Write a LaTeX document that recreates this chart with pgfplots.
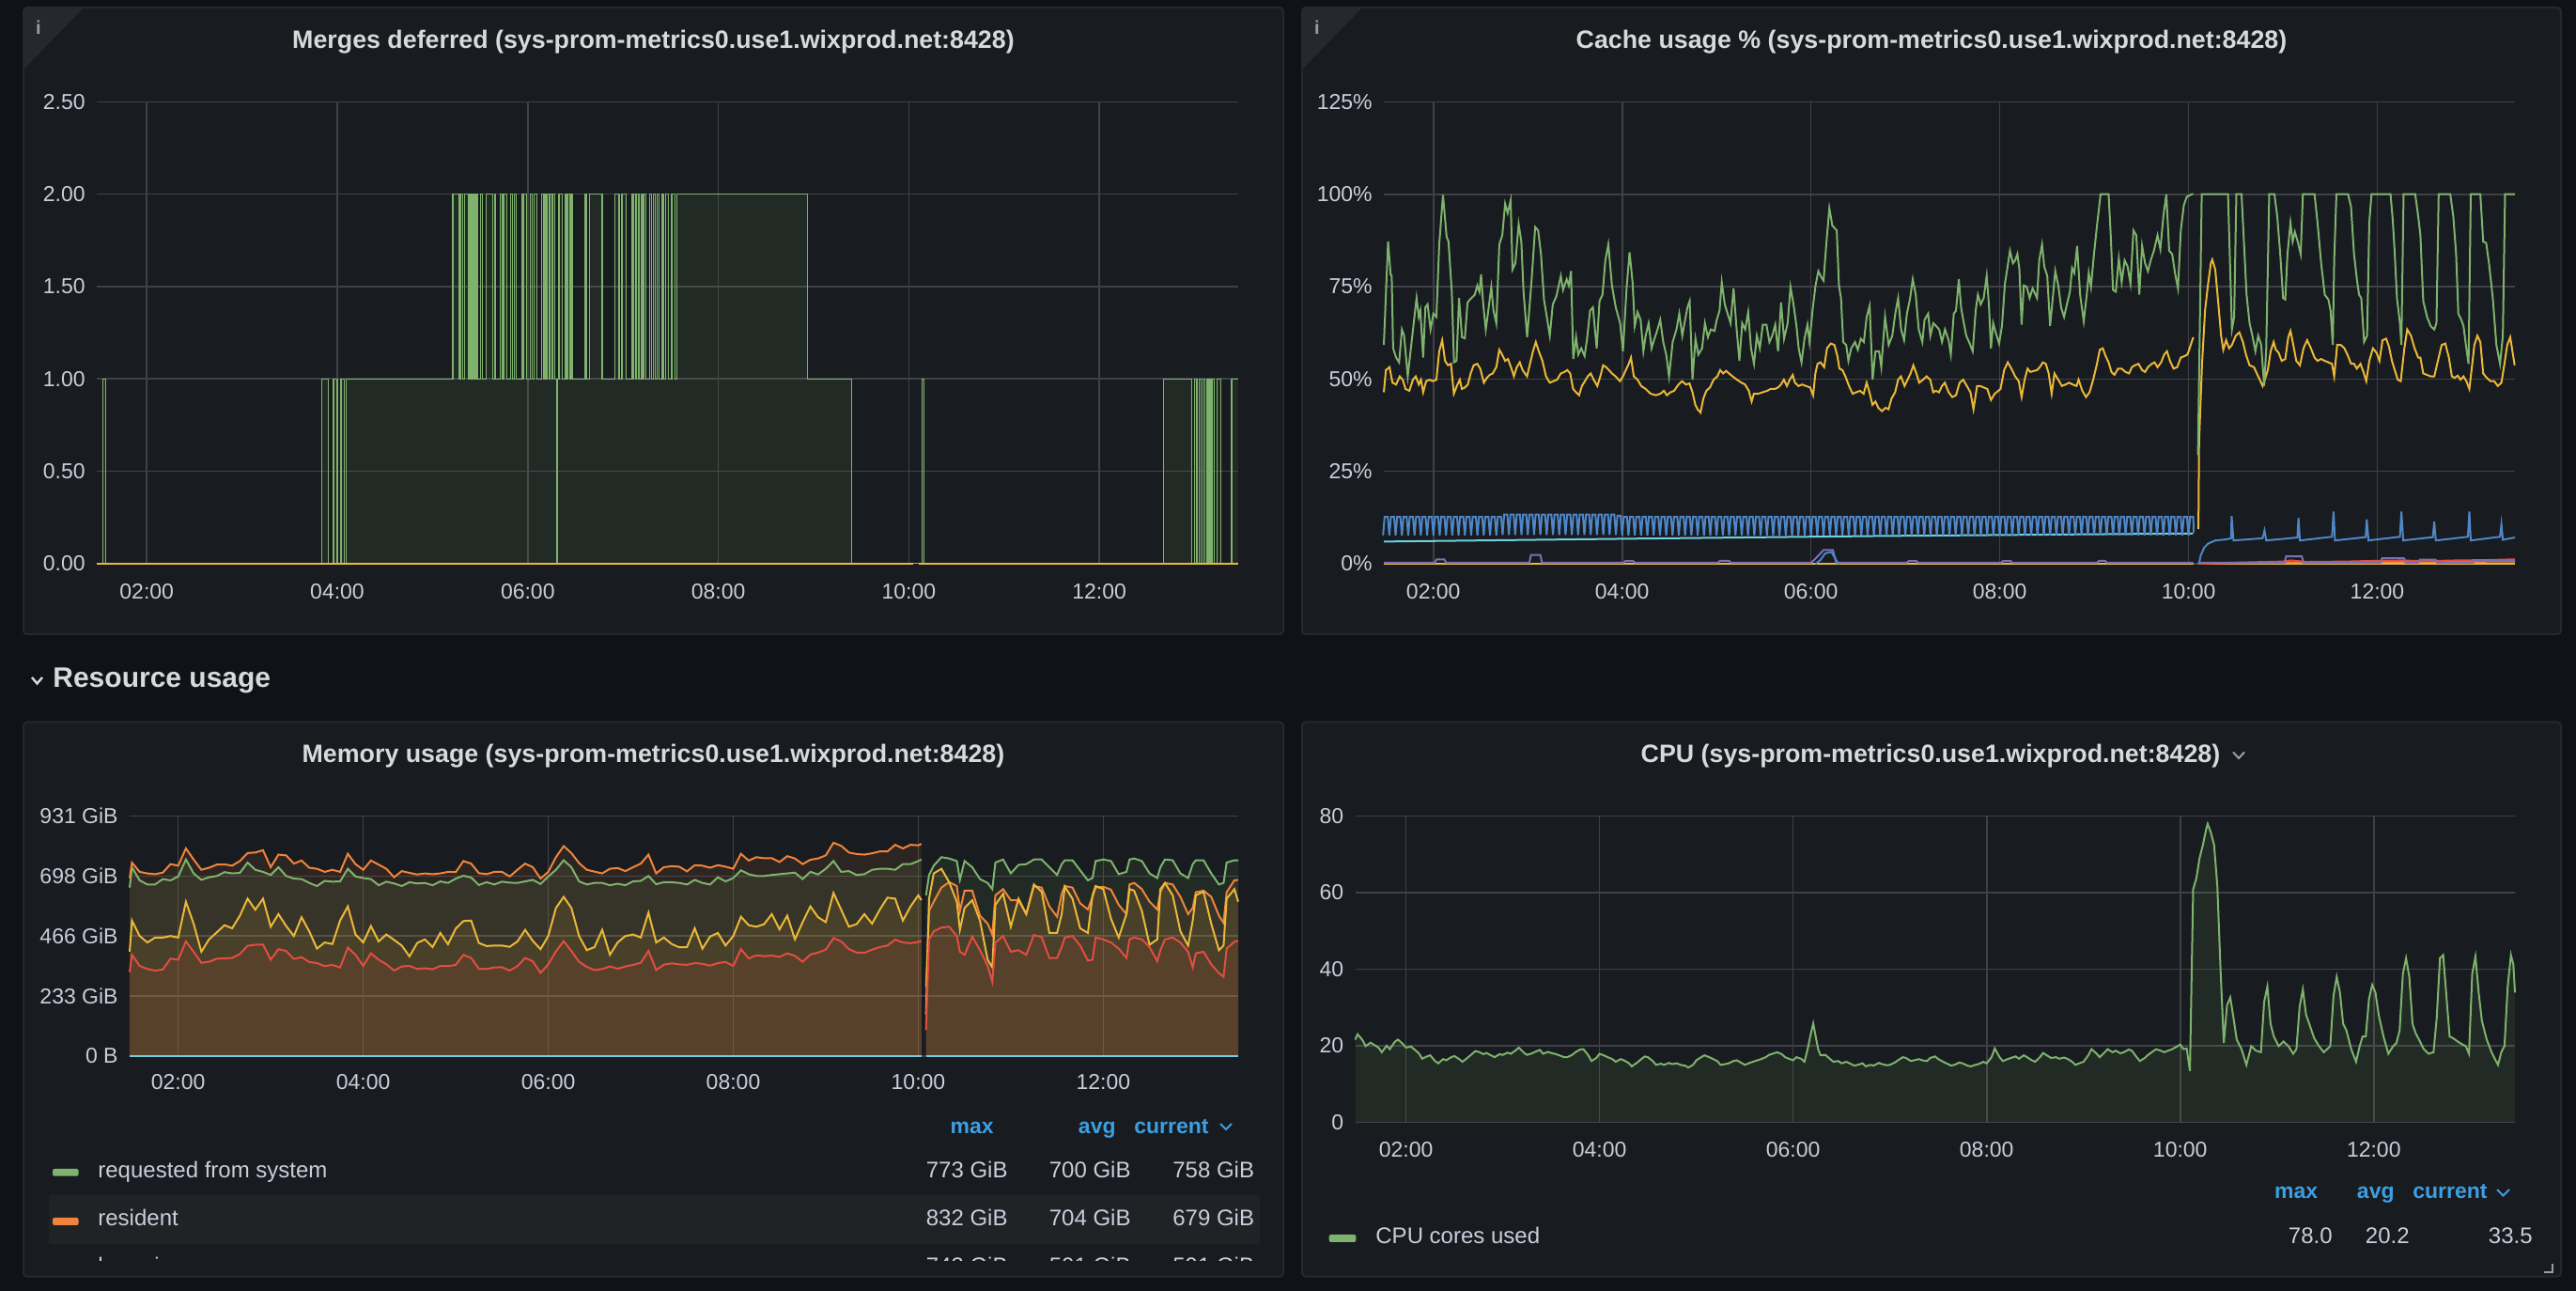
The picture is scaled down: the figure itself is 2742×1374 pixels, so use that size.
\documentclass[border=0pt]{standalone}
\usepackage{fontspec}
\setmainfont{Liberation Sans}
\usepackage{pgfplots}
\usepackage{pgfplotstable}
\pgfplotsset{compat=1.18}
\definecolor{dashbg}{HTML}{111217}
\definecolor{panelbg}{HTML}{181B1F}
\definecolor{panelbd}{HTML}{25282D}
\definecolor{gridc}{HTML}{3F4146}
\definecolor{tickc}{HTML}{CCCCDC}
\definecolor{titlec}{HTML}{D8D9DA}
\definecolor{hdrblue}{HTML}{3D9FE3}
\definecolor{infobg}{HTML}{25282D}
\definecolor{infoc}{HTML}{9A9DA3}
\definecolor{rowbg}{HTML}{202226}
\definecolor{cgreen}{HTML}{7EB26D}
\definecolor{cyellow}{HTML}{EAB839}
\definecolor{corange}{HTML}{EF843C}
\definecolor{cred}{HTML}{E24D42}
\definecolor{cblue}{HTML}{4E86C6}
\definecolor{ccyan}{HTML}{6ED0E0}
\definecolor{cpurple}{HTML}{806EB7}

\pgfplotsset{
 gaxis/.style={
  scale only axis, anchor=south west,
  xmin=88.5, xmax=807.5,
  axis line style={draw=none},
  major tick length=0pt,
  tick style={draw=none},
  xmajorgrids, ymajorgrids,
  major grid style={draw=gridc, line width=0.8pt},
  xtick={120,240,360,480,600,720},
  xticklabels={02:00,04:00,06:00,08:00,10:00,12:00},
  ticklabel style={font=\fontsize{11.5}{13.8}\selectfont, text=tickc},
  xticklabel style={anchor=north, inner sep=0pt},
  yticklabel style={anchor=east, inner sep=0pt},
  yticklabel shift=6pt,
  clip=false,
 }
}
\newcommand\tfont{\fontsize{13.4}{16}\selectfont\bfseries}
\newcommand\lfont{\fontsize{12}{14}\selectfont}
\newcommand\hfont{\fontsize{11.5}{14}\selectfont\bfseries}

\pgfplotstableread{
t v
88.5 0
92.4 1
93.9 0
230.2 1
234.6 0
237.6 1
240 0
242.4 1
244.2 0
245.4 1
312.8 2
316.9 1
318 2
319.2 1
320.1 2
322.4 1
323.4 2
324 1
325.2 2
326.4 1
327.6 2
328.5 1
330 2
331.2 1
334 2
337.7 1
339 2
339.6 1
342.8 2
343.8 1
344.7 2
346.9 1
349.2 2
350.4 1
351.6 2
352.9 1
356.1 2
357 1
357.6 2
359.3 1
361.7 2
363 1
364.2 2
365.8 1
368.6 2
370 1
370.8 2
371.4 1
372.2 2
373.2 1
374.1 2
375 1
375.6 2
376.9 1
378 0
378.6 1
379.6 2
381.5 1
383.8 2
384.6 1
385.5 2
386.4 1
387.3 2
388.4 1
396.2 2
397.2 1
399 2
406.9 1
414.7 2
417.5 1
419.3 2
422.1 1
425.3 2
426 1
426.9 2
427.8 1
428.4 2
429.9 1
431.3 2
432 1
432.9 2
434.5 1
436.9 2
438 1
439.2 2
440.4 1
441.4 2
442.8 1
444.7 2
445.8 1
447 2
448.4 1
450.7 2
452.9 1
453.9 2
536 1
564.1 0
608.4 1
609.6 0
760.6 1
778.2 0
780 1
781.5 0
783 1
784 0
785.5 1
786.3 0
787.5 1
788.5 0
789.5 1
790.3 0
791 1
792.5 0
794 1
796.6 0
803.4 1
807.5 1
}\merges

\pgfplotstableread{
t g o y r
88.5 654 691 405 326
90 733 751 526 393
95 682 715 466 350
100 666 709 441 338
105 666 706 460 332
110 687 712 460 336
115 682 745 466 378
120 697 739 460 374
125 763 806 599 445
130 709 763 514 405
135 684 723 405 362
140 694 731 453 366
145 699 743 480 378
150 714 744 508 379
155 709 739 496 381
160 711 757 545 396
165 751 788 611 428
170 723 790 568 432
175 715 799 611 433
180 703 733 502 374
185 733 782 551 415
190 699 779 505 408
195 689 747 466 377
200 687 759 539 384
205 672 731 484 365
210 660 727 417 361
215 680 715 441 349
220 677 723 435 354
225 678 715 526 344
230 727 785 581 421
235 697 745 472 393
240 691 723 441 350
245 687 759 505 399
250 663 743 445 374
255 677 727 472 356
260 670 694 451 332
265 660 718 429 348
270 675 711 387 350
275 670 705 439 338
280 672 709 453 341
285 663 706 423 337
290 678 709 478 350
295 672 715 434 349
300 689 714 495 354
305 700 757 524 393
310 693 747 526 381
315 664 710 439 339
320 675 706 427 338
325 666 715 429 344
330 677 715 429 345
335 673 697 424 332
340 672 723 445 349
345 678 747 490 381
350 684 733 447 368
355 668 689 415 323
360 697 715 466 356
365 723 772 575 407
370 760 815 618 446
375 733 788 575 408
380 678 749 466 366
385 666 723 411 346
390 672 716 423 334
395 672 709 490 338
400 663 727 393 348
405 669 730 441 339
410 663 718 466 348
415 678 733 472 354
420 680 747 460 362
425 699 782 557 408
430 667 709 441 334
435 675 733 460 355
440 675 737 435 360
445 672 735 422 356
450 666 717 423 354
455 684 741 496 361
460 672 739 417 358
465 666 731 464 351
470 694 741 478 361
475 678 735 429 365
480 691 727 466 350
485 721 785 541 415
490 706 759 508 379
495 699 772 502 391
500 699 768 512 388
505 703 768 551 390
510 706 753 492 385
515 709 776 545 399
520 712 767 453 389
525 687 745 520 366
530 715 762 581 394
535 705 767 539 402
540 727 779 520 413
545 757 828 633 458
550 715 816 568 445
555 718 790 502 415
560 703 784 512 402
565 706 782 551 401
570 723 787 514 413
575 727 794 568 423
580 727 794 615 429
585 723 820 611 452
590 745 806 526 441
595 745 820 581 438
600 757 818 624 443
602 763 824 605 447
}\memL

\pgfplotstableread{
t g o y r
605 624 271 162 101
607 703 563 611 453
610 739 599 709 484
615 772 654 727 499
620 767 675 675 502
625 757 660 599 466
627 684 563 490 405
630 757 642 575 393
635 733 642 605 464
640 687 545 526 411
645 672 514 374 350
648 648 472 344 289
650 751 624 587 441
655 763 648 630 466
660 709 605 502 405
665 742 605 611 411
670 745 551 551 393
675 763 660 666 470
680 763 654 638 462
685 733 581 478 381
690 703 541 478 381
693 745 630 551 423
695 760 660 658 460
700 760 654 611 466
705 721 593 496 429
710 682 569 478 371
713 691 618 624 374
715 757 654 660 460
720 763 657 648 453
725 757 646 533 441
730 706 587 460 417
735 715 551 551 381
737 763 666 648 453
740 767 672 642 460
745 757 648 563 453
750 709 599 432 423
755 691 569 453 368
757 733 636 648 411
760 763 672 672 453
765 760 666 624 460
770 709 618 484 441
775 691 551 429 405
778 745 575 526 344
780 760 636 624 399
785 760 642 638 405
790 709 618 514 356
795 666 545 411 322
798 672 517 429 308
800 751 636 611 417
805 760 682 648 444
807.5 760 684 599 447
}\memR

\pgfplotstableread{
t c
88.5 21.6
90 23.0
93 21.5
95 19.9
98 20.8
100 20.3
103 19.5
105 18.3
108 20.0
110 19.1
113 21.0
115 21.6
118 20.5
120 19.5
123 19.8
125 19.1
128 18.0
130 16.6
133 17.2
135 17.5
138 16.0
140 15.4
143 16.5
145 16.2
148 17.0
150 17.3
153 16.5
155 15.8
158 16.8
160 17.5
163 18.6
165 18.4
168 17.8
170 18.1
173 17.4
175 17.0
178 17.8
180 17.6
183 18.2
185 17.9
188 18.8
190 19.5
193 18.2
195 17.6
198 18.0
200 18.4
203 18.9
205 17.9
208 18.4
210 18.1
213 17.8
215 17.5
218 17.0
220 17.0
223 17.6
225 18.3
228 19.0
230 19.1
233 17.5
235 16.0
238 16.8
240 17.9
243 17.4
245 17.0
248 16.5
250 15.8
253 16.5
255 16.2
258 15.5
260 14.6
263 15.5
265 16.2
268 17.2
270 17.0
273 16.0
275 15.0
278 15.3
280 15.0
283 15.5
285 15.2
288 15.4
290 15.0
293 14.8
295 14.3
298 15.0
300 16.2
303 17.0
305 17.5
308 17.0
310 16.6
313 16.0
315 15.0
318 15.2
320 15.4
323 16.0
325 16.2
328 15.5
330 15.0
333 15.5
335 15.8
338 16.2
340 16.5
343 17.0
345 17.6
348 18.0
350 18.3
353 17.8
355 17.0
358 16.5
360 16.2
362 17.0
365 16.6
367 15.8
369 19.1
371 23.2
372.5 25.8
374 22.4
375.5 19.1
377 17.5
380 17.6
383 16.5
385 15.8
388 16.0
390 15.4
393 15.8
395 15.4
398 14.8
400 15.0
403 15.4
405 14.6
408 15.0
410 14.8
413 15.5
415 15.2
418 14.9
420 15.0
423 15.6
425 16.2
428 17.0
430 16.8
433 16.0
435 16.2
438 16.5
440 16.2
443 16.0
445 16.8
448 17.2
450 16.5
453 15.8
455 15.4
458 14.8
460 15.0
463 15.6
465 15.4
468 14.8
470 14.6
473 15.0
475 15.2
478 15.8
480 15.4
483 17.0
485 19.3
488 17.0
490 16.0
493 16.5
495 16.8
498 17.2
500 16.6
503 17.5
505 17.0
508 16.2
510 15.8
513 17.0
515 18.1
518 17.3
520 16.8
523 17.0
525 16.6
528 16.9
530 16.6
533 15.8
535 15.0
538 15.5
540 15.8
543 17.5
545 19.1
548 18.0
550 17.0
553 18.2
555 19.1
558 18.3
560 18.7
563 18.0
565 18.3
568 19.0
570 18.7
573 17.0
575 16.0
578 16.8
580 17.6
583 18.5
585 19.1
588 18.7
590 18.3
593 18.8
595 19.1
598 19.8
600 20.3
602 19.1
604 19.3
606 13.4
608 60.9
610 63.8
612 69.1
614 72.4
616 76.5
617 78.0
619 75.7
621 72.4
623 61.7
625 39.6
627 20.7
629 30.6
631 32.6
633 27.3
635 21.6
638 19.1
641 15.0
644 19.9
647 18.7
650 18.3
652 31.4
654 35.5
656 25.7
658 22.4
661 19.9
664 21.1
667 19.9
670 17.9
672 19.1
674 30.2
676 34.7
678 28.1
680 25.7
683 22.0
686 19.9
689 18.3
691 19.1
693 19.9
695 33.0
697 38.0
699 33.9
701 25.7
703 24.0
706 19.1
709 15.8
711 19.5
713 22.4
715 22.4
717 32.2
719 35.9
721 33.9
723 28.1
726 22.4
729 17.9
732 19.9
734 20.7
736 24.0
738 38.8
740 42.9
742 38.0
744 25.7
746 23.2
748 21.6
751 19.1
754 17.9
757 18.3
759 27.3
761 42.9
763 43.7
765 33.0
767 22.4
769 22.0
772 21.1
775 20.3
777 19.9
779 17.9
781 38.8
783 43.3
785 33.9
787 26.5
790 21.6
793 18.3
795 16.6
797 15.0
799 18.3
801 19.9
803 35.5
805 43.7
806.5 41.2
807.5 33.9
}\cpu

\begin{document}
\begin{tikzpicture}[x=0.5pt,y=0.5pt]
\fill[dashbg] (0,0) rectangle (2742,1374);
\coordinate (A1) at (103,774.3);
\coordinate (A2) at (1473,774);
\coordinate (A3) at (138,250);
\coordinate (A4) at (1442.5,179.6);
% panels
\filldraw[fill=panelbg, draw=panelbd, line width=1pt, rounded corners=2pt] (25,699) rectangle (1366,1366);
\filldraw[fill=panelbg, draw=panelbd, line width=1pt, rounded corners=2pt] (1386,699) rectangle (2726,1366);
\filldraw[fill=panelbg, draw=panelbd, line width=1pt, rounded corners=2pt] (25,15.4) rectangle (1366,605.5);
\filldraw[fill=panelbg, draw=panelbd, line width=1pt, rounded corners=2pt] (1386,15.4) rectangle (2726,605.5);
% info corners
\fill[infobg] (26,1365) -- (88,1365) -- (26,1301) -- cycle;
\fill[infobg] (1387,1365) -- (1449,1365) -- (1387,1301) -- cycle;
\node[font=\fontsize{10}{12}\selectfont\bfseries, text=infoc] at (41,1345) {i};
\node[font=\fontsize{10}{12}\selectfont\bfseries, text=infoc] at (1402,1345) {i};
% titles
\node[anchor=base, font=\tfont, text=titlec] at (695.5,1322.8) {Merges deferred (sys-prom-metrics0.use1.wixprod.net:8428)};
\node[anchor=base, font=\tfont, text=titlec] at (2056,1322.8) {Cache usage \% (sys-prom-metrics0.use1.wixprod.net:8428)};
\node[anchor=base, font=\tfont, text=titlec] at (695.5,562.5) {Memory usage (sys-prom-metrics0.use1.wixprod.net:8428)};
\node[anchor=base, font=\tfont, text=titlec] at (2055,562.5) {CPU (sys-prom-metrics0.use1.wixprod.net:8428)};
\draw[infoc, line width=1pt] (2377,573.5) -- (2383,567) -- (2389,573.5);
% row header
\draw[titlec, line width=1.2pt] (34,653) -- (39.5,646.5) -- (45,653);
\node[anchor=base west, inner sep=0pt, font=\fontsize{15}{18}\selectfont\bfseries, text=titlec] at (56,642) {Resource usage};

% ---------- Panel 1: merges ----------
\begin{axis}[gaxis, at={(A1)}, width=607.5pt, height=245.65pt,
  ymin=0, ymax=2.5, ytick={0,0.5,1,1.5,2,2.5},
  yticklabels={0.00,0.50,1.00,1.50,2.00,2.50}, xticklabel shift=10.5pt]
\addplot[const plot, draw=none, fill=cgreen, fill opacity=0.1] table[x=t,y=v]{\merges} \closedcycle;
\addplot[const plot, cgreen, line width=0.6pt] table[x=t,y=v]{\merges};
\addplot[cyellow, line width=1pt] coordinates {(88.5,0)(603,0)};
\addplot[cyellow, line width=1pt] coordinates {(606,0)(807.5,0)};
\end{axis}

% ---------- Panel 2: cache ----------
\begin{axis}[gaxis, at={(A2)}, width=602pt, height=245.8pt,
  ymin=0, ymax=125, ytick={0,25,50,75,100,125},
  yticklabels={0\%,25\%,50\%,75\%,100\%,125\%}, xticklabel shift=10.5pt]
\addplot[cyellow, line width=1pt] coordinates {(88.5,0)(603,0)};
\addplot[cyellow, line width=1pt] coordinates {(606,0)(807.5,0)};
\addplot[corange, line width=1pt] coordinates {(606,0)(650,0.3)(700,0.4)(750,0.5)(807.5,0.6)};
\addplot[cred, line width=1pt] coordinates {(606,0)(620,0.2)(640,0.4)(660,0.6)(665,0.9)(675,0.5)(700,0.6)(720,0.8)(735,0.9)(750,0.7)(770,0.9)(790,1.0)(807.5,1.2)};
\addplot[cpurple, line width=1pt] coordinates {(88.5,0.3)(121,0.3)(122,1.2)(127,1.2)(128,0.3)(181,0.3)(182,2.4)(188,2.4)(189,0.3)(241,0.3)(242,0.7)(247,0.7)(248,0.3)(301,0.3)(302,0.8)(308,0.8)(309,0.3)(360,0.3)(362,1.0)(368,3.7)(374,3.7)(376,0.3)(421,0.3)(422,0.7)(427,0.7)(428,0.3)(481,0.3)(482,0.7)(487,0.7)(488,0.3)(542,0.3)(543,0.8)(547,0.8)(548,0.3)(603,0.3)};
\addplot[cpurple, line width=1pt] coordinates {(606,0)(607,0.3)(661,0.3)(662,2.0)(672,2.0)(673,0.3)(722,0.3)(723,1.5)(737,1.5)(738,0.3)(746,0.3)(747,1.1)(757,1.1)(758,0.3)(781,0.3)(782,0.8)(807.5,0.8)};
\addplot[cblue, line width=1pt] coordinates {(363,0)(366,1)(369,2.8)(373,3.2)(377,0.3)(378,0)};
\addplot[ccyan, line width=1pt] coordinates {(88.5,6.0)(250,6.8)(400,7.5)(603,8.2)};
\addplot[cblue, line width=1pt] coordinates {
(88,7.7)(89,12.7)(91,12.7)(92,7.7)(93,12.7)(95,12.7)(96,7.7)(97,12.7)(99,12.7)(100,7.7)(101,12.7)(103,12.7)
(104,7.7)(105,12.7)(107,12.7)(108,7.7)(109,12.7)(111,12.7)(112,7.7)(113,12.7)(115,12.7)(116,7.7)(117,12.7)(119,12.7)
(120,7.7)(121,12.7)(123,12.7)(124,7.7)(125,12.7)(127,12.7)(128,7.7)(129,12.7)(131,12.7)(132,7.7)(133,12.7)(135,12.7)
(136,7.7)(137,12.7)(139,12.7)(140,7.7)(141,12.7)(143,12.7)(144,7.7)(145,12.7)(147,12.7)(148,7.7)(149,12.7)(151,12.7)
(152,7.7)(153,12.7)(155,12.7)(156,7.7)(157,12.7)(159,12.7)(160,7.7)(161,12.7)(163,12.7)(164,7.8)(165,13.3)(167,13.3)
(168,7.8)(169,13.3)(171,13.3)(172,7.8)(173,13.3)(175,13.3)(176,7.8)(177,13.3)(179,13.3)(180,7.8)(181,13.3)(183,13.3)
(184,7.8)(185,13.3)(187,13.3)(188,7.8)(189,13.3)(191,13.3)(192,7.8)(193,13.3)(195,13.3)(196,7.8)(197,13.3)(199,13.3)
(200,7.8)(201,13.3)(203,13.3)(204,7.8)(205,13.3)(207,13.3)(208,7.8)(209,13.3)(211,13.3)(212,7.8)(213,13.3)(215,13.3)
(216,7.8)(217,13.3)(219,13.3)(220,7.8)(221,13.3)(223,13.3)(224,7.8)(225,13.3)(227,13.3)(228,7.8)(229,13.3)(231,13.3)
(232,7.8)(233,13.3)(235,13.3)(236,7.8)(237,13.0)(239,13.0)(240,7.7)(241,12.7)(243,12.7)(244,7.7)(245,12.7)(247,12.7)
(248,7.7)(249,12.7)(251,12.7)(252,7.7)(253,12.7)(255,12.7)(256,7.7)(257,12.7)(259,12.7)(260,7.7)(261,12.7)(263,12.7)
(264,7.7)(265,12.7)(267,12.7)(268,7.7)(269,12.7)(271,12.7)(272,7.7)(273,12.7)(275,12.7)(276,7.7)(277,12.7)(279,12.7)
(280,7.7)(281,12.7)(283,12.7)(284,7.7)(285,12.7)(287,12.7)(288,7.7)(289,12.7)(291,12.7)(292,7.7)(293,12.7)(295,12.7)
(296,7.7)(297,12.7)(299,12.7)(300,7.7)(301,12.7)(303,12.7)(304,7.7)(305,12.7)(307,12.7)(308,7.7)(309,12.7)(311,12.7)
(312,7.7)(313,12.7)(315,12.7)(316,7.7)(317,12.7)(319,12.7)(320,7.7)(321,12.7)(323,12.7)(324,7.7)(325,12.7)(327,12.7)
(328,7.7)(329,12.7)(331,12.7)(332,7.7)(333,12.7)(335,12.7)(336,7.7)(337,12.7)(339,12.7)(340,7.7)(341,12.7)(343,12.7)
(344,7.7)(345,12.7)(347,12.7)(348,7.7)(349,12.7)(351,12.7)(352,7.7)(353,12.7)(355,12.7)(356,7.7)(357,12.7)(359,12.7)
(360,7.7)(361,12.7)(363,12.7)(364,7.7)(365,12.7)(367,12.7)(368,7.7)(369,12.7)(371,12.7)(372,7.7)(373,12.7)(375,12.7)
(376,7.7)(377,12.7)(379,12.7)(380,7.7)(381,12.7)(383,12.7)(384,7.7)(385,12.7)(387,12.7)(388,7.7)(389,12.7)(391,12.7)
(392,7.7)(393,12.7)(395,12.7)(396,7.7)(397,12.7)(399,12.7)(400,7.7)(401,12.7)(403,12.7)(404,7.7)(405,12.7)(407,12.7)
(408,7.7)(409,12.7)(411,12.7)(412,7.7)(413,12.7)(415,12.7)(416,7.7)(417,12.7)(419,12.7)(420,7.7)(421,12.7)(423,12.7)
(424,7.7)(425,12.7)(427,12.7)(428,7.7)(429,12.7)(431,12.7)(432,7.7)(433,12.7)(435,12.7)(436,7.7)(437,12.7)(439,12.7)
(440,7.7)(441,12.7)(443,12.7)(444,7.7)(445,12.7)(447,12.7)(448,7.7)(449,12.7)(451,12.7)(452,7.7)(453,12.7)(455,12.7)
(456,7.7)(457,12.7)(459,12.7)(460,7.7)(461,12.7)(463,12.7)(464,7.7)(465,12.7)(467,12.7)(468,7.7)(469,12.7)(471,12.7)
(472,7.7)(473,12.7)(475,12.7)(476,7.7)(477,12.7)(479,12.7)(480,7.7)(481,12.7)(483,12.7)(484,7.7)(485,12.7)(487,12.7)
(488,7.7)(489,12.7)(491,12.7)(492,7.7)(493,12.7)(495,12.7)(496,7.7)(497,12.7)(499,12.7)(500,7.7)(501,12.7)(503,12.7)
(504,7.7)(505,12.7)(507,12.7)(508,7.7)(509,12.7)(511,12.7)(512,7.7)(513,12.7)(515,12.7)(516,7.7)(517,12.7)(519,12.7)
(520,7.7)(521,12.7)(523,12.7)(524,7.7)(525,12.7)(527,12.7)(528,7.7)(529,12.7)(531,12.7)(532,7.7)(533,12.7)(535,12.7)
(536,7.7)(537,12.7)(539,12.7)(540,7.7)(541,12.7)(543,12.7)(544,7.7)(545,12.7)(547,12.7)(548,7.7)(549,12.7)(551,12.7)
(552,7.7)(553,12.7)(555,12.7)(556,7.7)(557,12.7)(559,12.7)(560,7.7)(561,12.7)(563,12.7)(564,7.7)(565,12.7)(567,12.7)
(568,7.7)(569,12.7)(571,12.7)(572,7.7)(573,12.7)(575,12.7)(576,7.7)(577,12.7)(579,12.7)(580,7.7)(581,12.7)(583,12.7)
(584,7.7)(585,12.7)(587,12.7)(588,7.7)(589,12.7)(591,12.7)(592,7.7)(593,12.7)(595,12.7)(596,7.7)(597,12.7)(599,12.7)
(600,7.7)(601,12.7)(603,12.7)(603.3,8.5)};
\addplot[cblue, line width=1pt] coordinates {(606.7,0)(607.7,2.2)(610,4.4)(612.3,5.4)(617,6.3)(624,6.6)(627,6.9)(627.4,12.9)(628.6,6.3)(647.1,6.9)(648.3,9.0)(649.4,6.3)(669.2,7.1)(669.9,12.4)(670.8,6.3)(691.2,7.3)(692.2,14.1)(693.1,6.3)(712.6,7.2)(713.3,12.0)(714.4,6.3)(734.4,7.3)(735.3,14.1)(736.5,6.3)(755.3,7.2)(756.2,11.4)(757.2,6.3)(777.6,7.3)(778.5,14.1)(779.4,6.3)(798.0,7.3)(798.9,10.7)(799.8,6.5)(807.5,7.1)};
% yellow cache
\addplot[cyellow, line width=1pt] coordinates {(88.5,46.4)(89.8,52.4)(92.1,53.2)(94.0,49.0)(96.3,48.5)(98.6,50.7)(100.5,49.8)(102.3,47.3)(104.7,46.8)(107.0,49.8)(108.8,50.7)(110.7,48.5)(112.1,49.8)(113.5,46.4)(115.4,49.4)(117.7,49.8)(119.5,49.4)(121.9,49.8)(123.7,57.5)(125.6,60.5)(127.4,54.9)(129.3,53.7)(131.2,54.1)(133.0,46.0)(134.9,48.1)(136.8,49.8)(138.1,47.3)(140.0,47.7)(141.9,48.5)(143.7,51.5)(145.6,53.7)(147.9,54.1)(149.8,52.8)(152.1,49.0)(154.0,50.3)(155.8,51.1)(157.7,51.5)(160.0,53.2)(161.9,57.9)(163.7,56.6)(165.6,54.9)(167.4,55.4)(169.3,53.2)(171.2,50.7)(173.0,53.2)(174.9,54.5)(176.7,52.4)(179.5,50.7)(181.4,54.1)(183.3,57.5)(185.1,60.0)(187.0,57.5)(189.3,54.9)(191.6,50.7)(194.0,49.0)(196.3,49.4)(198.6,49.8)(201.0,51.5)(203.3,51.9)(205.1,52.4)(207.0,51.5)(208.8,47.3)(210.7,46.4)(212.6,45.6)(214.4,48.1)(216.3,49.4)(218.1,50.7)(220.0,51.5)(221.9,49.8)(224.2,48.1)(226.1,50.7)(227.9,53.7)(229.8,53.2)(231.6,52.4)(233.5,51.5)(235.8,50.7)(238.6,49.4)(240.5,50.7)(242.3,52.4)(244.2,54.1)(245.6,55.8)(247.4,50.7)(249.8,49.8)(252.1,48.1)(254.9,47.3)(258.1,46.0)(261.4,45.6)(264.2,46.0)(266.5,46.8)(268.4,45.6)(270.7,46.4)(273.0,46.8)(275.8,48.5)(278.1,49.4)(280.5,48.5)(282.8,48.8)(284.7,46.4)(286.5,43.0)(287.9,41.8)(289.8,40.9)(291.6,44.7)(293.5,46.8)(295.8,47.7)(298.1,49.8)(300.5,50.7)(302.3,52.4)(304.2,51.5)(306.1,52.2)(307.9,51.5)(310.2,50.7)(313.0,49.8)(315.8,49.0)(318.1,48.5)(320.5,46.8)(322.3,43.9)(323.7,46.0)(326.5,46.0)(329.3,46.4)(332.1,46.8)(334.4,47.3)(337.2,47.3)(339.1,47.7)(340.9,48.5)(342.8,49.8)(344.7,48.1)(346.5,49.8)(348.4,51.1)(349.8,49.0)(352.1,48.1)(354.4,48.5)(356.8,48.1)(359.5,47.7)(361.4,45.6)(362.8,51.5)(364.2,54.1)(366.1,54.5)(368.4,53.2)(370.2,58.3)(372.6,59.6)(374.9,59.2)(376.8,56.2)(378.1,52.8)(380.0,52.4)(381.9,50.7)(384.2,48.1)(386.5,46.0)(388.8,46.4)(391.2,46.8)(393.5,46.0)(395.4,49.0)(397.2,46.4)(399.1,43.0)(401.0,43.9)(402.8,42.2)(405.1,41.3)(407.4,42.2)(409.3,41.8)(411.2,44.7)(413.5,46.4)(415.4,49.8)(417.2,50.7)(419.5,48.1)(421.4,49.8)(423.3,51.5)(425.1,53.7)(427.0,51.5)(428.8,49.0)(431.2,49.8)(433.5,50.7)(435.8,49.8)(437.7,46.4)(439.5,46.8)(441.4,46.4)(443.3,48.1)(445.1,49.0)(447.5,46.4)(449.8,45.1)(452.2,45.6)(454.5,49.0)(456.8,49.8)(459.1,48.1)(461.4,46.4)(463.3,41.8)(465.6,48.1)(467.5,48.1)(469.8,47.7)(472.1,47.3)(474.4,44.3)(476.8,46.0)(479.1,46.8)(480.5,47.3)(482.8,52.4)(485.1,54.5)(487.4,52.8)(489.8,50.7)(492.1,49.4)(493.9,45.1)(495.8,49.8)(497.7,52.8)(499.5,51.9)(501.8,52.2)(503.7,52.4)(505.5,53.2)(507.4,54.5)(509.3,54.1)(511.1,51.5)(513.0,46.0)(514.8,51.5)(517.2,49.8)(519.5,48.1)(521.8,48.5)(524.1,49.0)(526.4,48.5)(528.8,48.1)(530.1,49.8)(532.5,46.8)(534.8,45.1)(537.1,46.4)(539.4,49.8)(541.8,54.1)(543.6,57.9)(545.5,58.3)(547.3,56.2)(549.2,54.5)(551.0,51.9)(552.9,51.1)(555.2,52.8)(557.5,52.8)(559.9,51.9)(562.2,51.5)(564.0,53.2)(565.9,53.7)(568.2,54.1)(570.5,52.4)(572.4,51.9)(574.2,53.2)(576.6,54.1)(578.4,54.5)(580.3,53.2)(582.6,54.5)(584.5,56.6)(586.3,57.5)(588.2,54.9)(590.5,52.8)(592.8,53.2)(595.1,55.8)(597.5,56.2)(599.3,56.6)(600.7,58.3)(603.0,61.3)};
\addplot[cyellow, line width=1pt] coordinates {(606.3,9.4)(606.7,32.8)(608.6,54.1)(610.5,68.5)(612.3,75.3)(614.2,81.3)(615.1,82.3)(617.0,79.6)(618.8,71.1)(620.7,61.7)(622.1,57.9)(623.9,60.5)(625.8,58.3)(627.6,59.2)(630.0,61.7)(632.3,62.6)(634.6,60.0)(636.5,56.6)(638.8,53.7)(641.6,53.2)(643.4,51.5)(645.3,49.8)(647.1,48.1)(648.5,49.8)(650.4,52.4)(652.2,57.5)(654.1,60.0)(655.5,57.9)(657.3,57.1)(659.2,54.9)(661.5,55.4)(663.4,61.3)(664.8,63.0)(666.6,59.2)(668.5,54.9)(670.8,53.7)(673.1,58.3)(675.4,60.5)(677.8,58.3)(680.1,55.8)(682.0,54.9)(684.3,55.4)(686.6,54.9)(688.9,54.5)(691.2,54.1)(692.6,50.7)(694.5,59.2)(696.8,59.2)(699.1,58.3)(701.4,56.2)(703.3,54.1)(705.2,54.1)(707.0,52.8)(709.3,54.1)(711.2,51.9)(713.0,49.4)(714.9,54.9)(717.2,58.3)(719.5,57.1)(721.4,54.9)(723.3,60.5)(725.6,60.9)(727.4,58.8)(729.3,54.9)(731.1,52.4)(733.0,49.8)(734.9,49.4)(737.2,58.3)(739.0,63.4)(741.4,61.7)(743.7,58.3)(746.0,55.8)(747.4,55.8)(749.2,51.5)(751.6,51.1)(753.9,50.7)(756.2,50.7)(758.5,54.9)(760.9,59.2)(763.2,59.6)(765.5,55.8)(767.4,50.7)(769.2,50.3)(771.1,50.9)(772.9,49.8)(774.8,50.7)(776.6,49.4)(778.5,47.3)(779.9,52.4)(781.7,59.2)(783.6,61.7)(785.5,60.0)(787.3,51.5)(789.6,50.3)(792.0,49.4)(794.3,49.4)(796.6,48.1)(798.9,49.0)(800.8,54.1)(802.6,59.2)(804.5,61.3)(807.3,53.7)};
% green cache
\addplot[cgreen, line width=1pt] coordinates {(88.5,59.2)(91.2,87.2)(92.8,78.3)(93.5,77.9)(94.4,58.3)(96.3,55.8)(98.2,54.5)(100.0,63.4)(101.4,61.7)(103.7,50.7)(107.5,65.1)(109.3,71.9)(110.7,66.8)(111.7,68.5)(113.5,55.8)(114.9,69.4)(116.3,70.2)(118.2,63.4)(120.0,67.7)(121.9,66.8)(123.7,86.4)(126.1,99.8)(128.4,88.5)(129.6,87.2)(131.7,73.6)(133.1,54.5)(134.7,54.9)(136.3,71.9)(138.2,61.3)(140.0,61.0)(141.7,70.7)(143.3,71.5)(146.3,72.8)(147.9,75.3)(149.3,73.6)(150.3,78.3)(151.7,70.2)(153.3,63.4)(154.9,68.5)(156.8,74.9)(158.2,68.5)(160.0,65.1)(161.9,86.4)(163.8,88.9)(165.6,97.4)(167.2,94.9)(169.1,98.3)(170.3,79.6)(172.1,81.3)(174.2,91.9)(175.9,87.2)(177.3,73.6)(179.6,61.3)(182.4,76.6)(184.7,91.1)(186.6,90.2)(188.4,83.8)(190.3,71.5)(192.1,66.8)(194.0,61.7)(195.9,70.2)(198.2,72.4)(201.0,77.9)(202.4,74.1)(204.7,77.0)(206.1,75.3)(207.5,79.2)(208.9,55.4)(210.7,61.3)(212.1,56.6)(214.0,58.3)(216.1,56.2)(217.7,60.9)(219.6,68.5)(221.4,69.4)(223.8,58.3)(225.6,71.1)(227.5,72.8)(229.3,82.1)(231.2,86.4)(233.5,75.3)(235.9,69.4)(238.7,65.1)(240.5,57.5)(242.8,74.5)(244.7,84.3)(246.6,76.2)(248.0,64.3)(249.8,68.1)(251.7,66.0)(253.5,57.5)(254.9,61.7)(256.8,65.1)(258.7,58.3)(260.5,60.9)(261.9,62.6)(264.2,66.0)(266.1,60.0)(268.0,56.6)(269.8,50.7)(272.1,60.0)(274.5,63.4)(276.3,67.7)(278.2,61.7)(279.6,65.1)(281.5,69.4)(282.9,71.1)(284.7,49.8)(286.6,60.9)(288.4,56.6)(290.8,58.3)(292.6,65.1)(294.5,61.3)(296.3,63.4)(298.7,63.0)(300.1,66.0)(301.9,68.5)(303.3,76.2)(305.2,70.2)(307.0,67.7)(308.9,65.1)(310.8,74.5)(312.6,64.3)(314.5,54.9)(316.3,65.1)(318.2,63.4)(320.1,68.1)(321.9,58.3)(323.8,54.1)(325.6,61.7)(327.5,58.3)(329.4,64.7)(331.7,64.7)(333.6,60.0)(335.4,61.7)(337.3,64.7)(339.1,57.5)(341.0,70.7)(342.9,60.9)(345.2,65.1)(347.0,74.9)(348.9,70.2)(350.8,64.3)(352.2,58.3)(354.0,54.5)(355.9,60.9)(357.8,64.7)(359.1,60.0)(361.0,68.5)(362.9,75.3)(364.7,79.2)(366.6,77.5)(368.0,76.6)(369.8,86.8)(371.7,96.2)(373.6,91.5)(376.4,90.2)(377.8,75.3)(379.1,71.9)(380.5,60.0)(382.4,59.2)(383.8,54.9)(385.6,58.3)(388.0,60.0)(389.8,57.9)(391.7,60.9)(393.6,60.0)(395.4,66.8)(397.3,69.8)(399.2,49.8)(401.0,57.5)(403.3,57.5)(404.7,53.2)(407.1,66.8)(409.4,59.2)(411.7,61.7)(413.6,67.7)(415.4,71.9)(417.3,63.4)(419.2,60.5)(421.0,67.7)(422.9,71.5)(424.7,77.0)(426.6,72.8)(428.5,63.4)(430.8,60.0)(432.2,66.0)(434.5,67.7)(435.9,61.7)(437.8,65.1)(439.6,64.3)(441.5,63.4)(443.3,60.0)(445.2,63.4)(447.5,60.5)(448.9,56.6)(450.8,67.7)(452.2,68.5)(454.0,77.0)(455.4,69.4)(456.8,66.0)(458.7,61.7)(460.5,60.0)(462.8,57.5)(464.7,68.5)(466.1,72.8)(467.9,70.2)(469.8,71.9)(471.7,77.9)(473.1,70.2)(474.4,58.3)(475.8,65.1)(477.7,62.2)(479.6,59.6)(481.4,64.3)(483.3,75.8)(484.7,79.6)(486.5,84.7)(488.4,81.3)(489.8,82.1)(491.2,83.8)(492.5,79.6)(493.9,64.7)(495.3,75.3)(497.2,74.9)(499.0,71.9)(500.9,74.5)(502.3,73.2)(503.7,71.9)(505.1,82.1)(506.9,86.4)(508.3,80.4)(510.2,77.9)(512.0,64.3)(513.9,72.8)(515.3,79.2)(517.2,75.3)(519.0,69.4)(520.9,66.8)(522.7,70.2)(524.6,73.6)(526.0,80.0)(527.4,78.7)(529.2,86.0)(531.1,72.8)(533.4,65.6)(535.3,72.8)(536.6,78.7)(538.0,74.9)(539.9,83.8)(541.8,91.5)(544.1,100)(549.2,100)(550.6,88.5)(552.0,74.1)(553.8,73.6)(555.7,82.6)(557.5,76.2)(559.4,82.1)(561.3,80.4)(563.1,75.8)(565.0,90.2)(566.8,88.9)(568.7,72.8)(570.5,86.0)(572.4,81.3)(574.2,79.2)(576.1,82.3)(578.0,84.7)(580.3,88.9)(582.1,85.1)(584.0,94.0)(585.9,100)(587.7,84.7)(589.6,83.8)(591.4,78.7)(593.3,74.5)(595.1,90.2)(597.0,97.0)(598.9,99.3)(602.1,100)(603.0,100)};
\addplot[cgreen, line width=1pt] coordinates {(606.0,29.4)(608.4,100)(625.1,100)(626.2,83.8)(627.6,63.4)(629.0,66.8)(630.4,100)(633.7,100)(635.1,88.1)(636.9,72.8)(638.8,65.1)(640.6,61.7)(642.5,57.5)(644.3,61.7)(646.2,59.2)(648.1,48.1)(649.4,58.3)(651.3,100)(654.6,100)(656.4,94.0)(658.3,83.8)(660.1,71.9)(661.5,71.5)(662.9,83.8)(664.8,92.3)(666.2,87.2)(667.6,89.8)(669.4,87.2)(671.3,83.8)(672.7,100)(680.1,100)(682.0,92.3)(684.3,81.3)(686.6,72.8)(688.9,71.5)(690.3,68.5)(691.7,59.2)(692.6,82.3)(694.0,100)(701.4,100)(703.3,96.6)(705.2,83.8)(707.0,77.0)(708.4,72.8)(709.8,71.9)(711.6,60.0)(713.5,61.7)(714.9,92.3)(716.3,100)(728.4,100)(729.8,93.2)(731.1,83.8)(732.5,71.9)(734.4,65.1)(735.3,59.2)(736.7,100)(744.1,100)(746.0,94.0)(747.4,88.9)(749.2,71.1)(751.6,66.8)(753.9,64.3)(756.2,63.4)(757.6,65.1)(759.0,100)(766.4,100)(768.3,94.0)(770.1,83.8)(771.5,67.7)(773.4,66.0)(774.8,64.3)(776.6,58.3)(778.0,54.1)(779.4,100)(785.5,100)(787.3,87.2)(789.2,86.8)(791.0,81.3)(793.4,71.9)(795.7,59.2)(798.0,54.1)(799.8,61.7)(801.2,100)(807.5,100)};
\end{axis}

% ---------- Panel 3: memory ----------
\begin{axis}[gaxis, at={(A3)}, width=590pt, height=127.7pt,
  ymin=0, ymax=931.3, ytick={0,232.8,465.7,698.5,931.3},
  yticklabels={0 B,233 GiB,466 GiB,698 GiB,931 GiB}, xticklabel shift=9.3pt]
\addplot[draw=none, fill=cgreen, fill opacity=0.1] table[x=t,y=g]{\memL} \closedcycle;
\addplot[draw=none, fill=corange, fill opacity=0.1] table[x=t,y=o]{\memL} \closedcycle;
\addplot[draw=none, fill=cyellow, fill opacity=0.1] table[x=t,y=y]{\memL} \closedcycle;
\addplot[draw=none, fill=cred, fill opacity=0.1] table[x=t,y=r]{\memL} \closedcycle;
\addplot[draw=none, fill=cgreen, fill opacity=0.1] table[x=t,y=g]{\memR} \closedcycle;
\addplot[draw=none, fill=corange, fill opacity=0.1] table[x=t,y=o]{\memR} \closedcycle;
\addplot[draw=none, fill=cyellow, fill opacity=0.1] table[x=t,y=y]{\memR} \closedcycle;
\addplot[draw=none, fill=cred, fill opacity=0.1] table[x=t,y=r]{\memR} \closedcycle;
\addplot[cgreen, line width=1pt] table[x=t,y=g]{\memL};
\addplot[corange, line width=1pt] table[x=t,y=o]{\memL};
\addplot[cyellow, line width=1pt] table[x=t,y=y]{\memL};
\addplot[cred, line width=1pt] table[x=t,y=r]{\memL};
\addplot[cgreen, line width=1pt] table[x=t,y=g]{\memR};
\addplot[corange, line width=1pt] table[x=t,y=o]{\memR};
\addplot[cyellow, line width=1pt] table[x=t,y=y]{\memR};
\addplot[cred, line width=1pt] table[x=t,y=r]{\memR};
\addplot[ccyan, line width=1pt] coordinates {(88.5,0)(602,0)};
\addplot[ccyan, line width=1pt] coordinates {(605,0)(807.5,0)};
\end{axis}

% ---------- Panel 4: CPU ----------
\begin{axis}[gaxis, at={(A4)}, width=617.25pt, height=162.9pt,
  ymin=0, ymax=80, ytick={0,20,40,60,80},
  yticklabels={0,20,40,60,80}, xticklabel shift=10.2pt]
\addplot[draw=none, fill=cgreen, fill opacity=0.1] table[x=t,y=c]{\cpu} \closedcycle;
\addplot[cgreen, line width=1pt] table[x=t,y=c]{\cpu};
\end{axis}

% ---------- memory legend ----------
\node[anchor=base east, inner sep=0pt, font=\hfont, text=hdrblue] at (1058,167.3) {max};
\node[anchor=base east, inner sep=0pt, font=\hfont, text=hdrblue] at (1188,167.3) {avg};
\node[anchor=base east, inner sep=0pt, font=\hfont, text=hdrblue] at (1287,167.3) {current};
\draw[hdrblue, line width=1pt] (1299,178) -- (1305,172) -- (1311,178);
\fill[cgreen, rounded corners=1pt] (56,122.3) rectangle (83.6,130);
\node[anchor=base west, inner sep=0pt, font=\lfont, text=tickc] at (104,120) {requested from system};
\node[anchor=base east, inner sep=0pt, font=\lfont, text=tickc] at (1073,120) {773 GiB};
\node[anchor=base east, inner sep=0pt, font=\lfont, text=tickc] at (1204,120) {700 GiB};
\node[anchor=base east, inner sep=0pt, font=\lfont, text=tickc] at (1335.5,120) {758 GiB};
\fill[rowbg] (52,50.3) rectangle (1340.6,101.7);
\fill[corange, rounded corners=1pt] (56,70) rectangle (83.6,78);
\node[anchor=base west, inner sep=0pt, font=\lfont, text=tickc] at (104,69) {resident};
\node[anchor=base east, inner sep=0pt, font=\lfont, text=tickc] at (1073,69) {832 GiB};
\node[anchor=base east, inner sep=0pt, font=\lfont, text=tickc] at (1204,69) {704 GiB};
\node[anchor=base east, inner sep=0pt, font=\lfont, text=tickc] at (1335.5,69) {679 GiB};
\begin{scope}
\clip (40,32) rectangle (1350,48);
\node[anchor=base west, inner sep=0pt, font=\lfont, text=tickc] at (104,18) {heap in use};
\node[anchor=base east, inner sep=0pt, font=\lfont, text=tickc] at (1073,18) {743 GiB};
\node[anchor=base east, inner sep=0pt, font=\lfont, text=tickc] at (1204,18) {501 GiB};
\node[anchor=base east, inner sep=0pt, font=\lfont, text=tickc] at (1335.5,18) {591 GiB};
\end{scope}

% ---------- CPU legend ----------
\node[anchor=base east, inner sep=0pt, font=\hfont, text=hdrblue] at (2467.6,98) {max};
\node[anchor=base east, inner sep=0pt, font=\hfont, text=hdrblue] at (2549,98) {avg};
\node[anchor=base east, inner sep=0pt, font=\hfont, text=hdrblue] at (2648,98) {current};
\draw[hdrblue, line width=1pt] (2658,108) -- (2664.5,101.5) -- (2671,108);
\fill[cgreen, rounded corners=1pt] (1414.7,52) rectangle (1443.4,60);
\node[anchor=base west, inner sep=0pt, font=\lfont, text=tickc] at (1464,50) {CPU cores used};
\node[anchor=base east, inner sep=0pt, font=\lfont, text=tickc] at (2483,50) {78.0};
\node[anchor=base east, inner sep=0pt, font=\lfont, text=tickc] at (2565,50) {20.2};
\node[anchor=base east, inner sep=0pt, font=\lfont, text=tickc] at (2696,50) {33.5};
\draw[infoc, line width=0.8pt] (2708,20) -- (2717,20) -- (2717,29);

\pgfresetboundingbox
\useasboundingbox (0,0) rectangle (2742,1374);
\end{tikzpicture}
\end{document}
